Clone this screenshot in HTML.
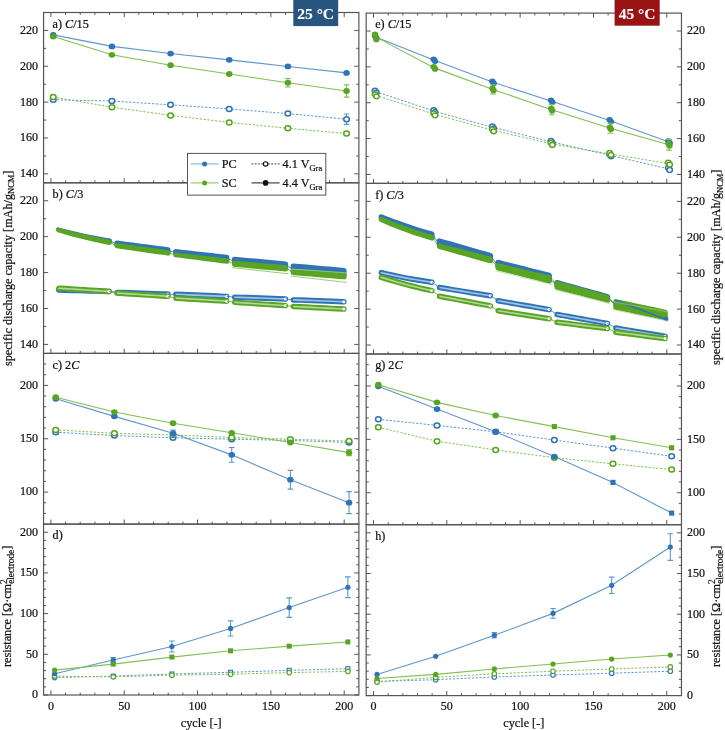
<!DOCTYPE html>
<html><head><meta charset="utf-8"><style>
html,body{margin:0;padding:0;background:#fff;}
svg{display:block;will-change:transform;}
text{font-family:"Liberation Serif", serif;fill:#111;stroke:#111;stroke-width:0.22px;}
.t{font-size:12px;}
.pl{font-size:12.2px;}
.lt{font-size:12.2px;}
.at{font-size:12.2px;}
.tb{font-size:15.5px;font-weight:bold;fill:#fff;stroke:#fff;stroke-width:0.1px;}
</style></head><body>
<svg width="725" height="730" viewBox="0 0 725 730">
<rect width="725" height="730" fill="#fff"/>
<rect x="43.57" y="12.50" width="315.30" height="170.30" fill="none" stroke="#555555" stroke-width="1.2"/>
<path d="M43.57 173.84h4.6M358.86 173.84h-4.6M43.57 137.98h4.6M358.86 137.98h-4.6M43.57 102.13h4.6M358.86 102.13h-4.6M43.57 66.28h4.6M358.86 66.28h-4.6M43.57 30.43h4.6M358.86 30.43h-4.6M43.57 155.91h2.6M358.86 155.91h-2.6M43.57 120.06h2.6M358.86 120.06h-2.6M43.57 84.21h2.6M358.86 84.21h-2.6M43.57 48.35h2.6M358.86 48.35h-2.6M50.90 182.80v-4.6M50.90 12.50v4.6M65.56 182.80v-2.4M65.56 12.50v2.4M80.23 182.80v-2.4M80.23 12.50v2.4M94.89 182.80v-2.4M94.89 12.50v2.4M109.56 182.80v-2.4M109.56 12.50v2.4M124.22 182.80v-4.6M124.22 12.50v4.6M138.89 182.80v-2.4M138.89 12.50v2.4M153.56 182.80v-2.4M153.56 12.50v2.4M168.22 182.80v-2.4M168.22 12.50v2.4M182.88 182.80v-2.4M182.88 12.50v2.4M197.55 182.80v-4.6M197.55 12.50v4.6M212.22 182.80v-2.4M212.22 12.50v2.4M226.88 182.80v-2.4M226.88 12.50v2.4M241.54 182.80v-2.4M241.54 12.50v2.4M256.21 182.80v-2.4M256.21 12.50v2.4M270.88 182.80v-4.6M270.88 12.50v4.6M285.54 182.80v-2.4M285.54 12.50v2.4M300.20 182.80v-2.4M300.20 12.50v2.4M314.87 182.80v-2.4M314.87 12.50v2.4M329.53 182.80v-2.4M329.53 12.50v2.4M344.20 182.80v-4.6M344.20 12.50v4.6" stroke="#555555" stroke-width="1" fill="none"/>
<text x="38.07" y="177.24" text-anchor="end" class="t">140</text>
<text x="38.07" y="141.38" text-anchor="end" class="t">160</text>
<text x="38.07" y="105.53" text-anchor="end" class="t">180</text>
<text x="38.07" y="69.68" text-anchor="end" class="t">200</text>
<text x="38.07" y="33.83" text-anchor="end" class="t">220</text>
<rect x="43.57" y="182.80" width="315.30" height="170.60" fill="none" stroke="#555555" stroke-width="1.2"/>
<path d="M43.57 344.42h4.6M358.86 344.42h-4.6M43.57 308.51h4.6M358.86 308.51h-4.6M43.57 272.59h4.6M358.86 272.59h-4.6M43.57 236.67h4.6M358.86 236.67h-4.6M43.57 200.76h4.6M358.86 200.76h-4.6M43.57 326.46h2.6M358.86 326.46h-2.6M43.57 290.55h2.6M358.86 290.55h-2.6M43.57 254.63h2.6M358.86 254.63h-2.6M43.57 218.72h2.6M358.86 218.72h-2.6M50.90 353.40v-4.6M65.56 353.40v-2.4M80.23 353.40v-2.4M94.89 353.40v-2.4M109.56 353.40v-2.4M124.22 353.40v-4.6M138.89 353.40v-2.4M153.56 353.40v-2.4M168.22 353.40v-2.4M182.88 353.40v-2.4M197.55 353.40v-4.6M212.22 353.40v-2.4M226.88 353.40v-2.4M241.54 353.40v-2.4M256.21 353.40v-2.4M270.88 353.40v-4.6M285.54 353.40v-2.4M300.20 353.40v-2.4M314.87 353.40v-2.4M329.53 353.40v-2.4M344.20 353.40v-4.6" stroke="#555555" stroke-width="1" fill="none"/>
<text x="38.07" y="347.82" text-anchor="end" class="t">140</text>
<text x="38.07" y="311.91" text-anchor="end" class="t">160</text>
<text x="38.07" y="275.99" text-anchor="end" class="t">180</text>
<text x="38.07" y="240.07" text-anchor="end" class="t">200</text>
<text x="38.07" y="204.16" text-anchor="end" class="t">220</text>
<rect x="43.57" y="353.40" width="315.30" height="170.70" fill="none" stroke="#555555" stroke-width="1.2"/>
<path d="M43.57 492.09h4.6M358.86 492.09h-4.6M43.57 438.75h4.6M358.86 438.75h-4.6M43.57 385.41h4.6M358.86 385.41h-4.6M43.57 513.43h2.6M358.86 513.43h-2.6M43.57 502.76h2.6M358.86 502.76h-2.6M43.57 481.43h2.6M358.86 481.43h-2.6M43.57 470.76h2.6M358.86 470.76h-2.6M43.57 460.09h2.6M358.86 460.09h-2.6M43.57 449.42h2.6M358.86 449.42h-2.6M43.57 428.08h2.6M358.86 428.08h-2.6M43.57 417.41h2.6M358.86 417.41h-2.6M43.57 406.74h2.6M358.86 406.74h-2.6M43.57 396.07h2.6M358.86 396.07h-2.6M43.57 374.74h2.6M358.86 374.74h-2.6M43.57 364.07h2.6M358.86 364.07h-2.6M50.90 524.10v-4.6M65.56 524.10v-2.4M80.23 524.10v-2.4M94.89 524.10v-2.4M109.56 524.10v-2.4M124.22 524.10v-4.6M138.89 524.10v-2.4M153.56 524.10v-2.4M168.22 524.10v-2.4M182.88 524.10v-2.4M197.55 524.10v-4.6M212.22 524.10v-2.4M226.88 524.10v-2.4M241.54 524.10v-2.4M256.21 524.10v-2.4M270.88 524.10v-4.6M285.54 524.10v-2.4M300.20 524.10v-2.4M314.87 524.10v-2.4M329.53 524.10v-2.4M344.20 524.10v-4.6" stroke="#555555" stroke-width="1" fill="none"/>
<text x="38.07" y="495.49" text-anchor="end" class="t">100</text>
<text x="38.07" y="442.15" text-anchor="end" class="t">150</text>
<text x="38.07" y="388.81" text-anchor="end" class="t">200</text>
<rect x="43.57" y="524.10" width="315.30" height="170.90" fill="none" stroke="#555555" stroke-width="1.2"/>
<path d="M43.57 695.00h4.6M358.86 695.00h-4.6M43.57 654.31h4.6M358.86 654.31h-4.6M43.57 613.62h4.6M358.86 613.62h-4.6M43.57 572.93h4.6M358.86 572.93h-4.6M43.57 532.24h4.6M358.86 532.24h-4.6M43.57 686.86h2.6M358.86 686.86h-2.6M43.57 678.72h2.6M358.86 678.72h-2.6M43.57 670.59h2.6M358.86 670.59h-2.6M43.57 662.45h2.6M358.86 662.45h-2.6M43.57 646.17h2.6M358.86 646.17h-2.6M43.57 638.03h2.6M358.86 638.03h-2.6M43.57 629.90h2.6M358.86 629.90h-2.6M43.57 621.76h2.6M358.86 621.76h-2.6M43.57 605.48h2.6M358.86 605.48h-2.6M43.57 597.34h2.6M358.86 597.34h-2.6M43.57 589.20h2.6M358.86 589.20h-2.6M43.57 581.07h2.6M358.86 581.07h-2.6M43.57 564.79h2.6M358.86 564.79h-2.6M43.57 556.65h2.6M358.86 556.65h-2.6M43.57 548.51h2.6M358.86 548.51h-2.6M43.57 540.38h2.6M358.86 540.38h-2.6M50.90 695.00v-4.6M65.56 695.00v-2.4M80.23 695.00v-2.4M94.89 695.00v-2.4M109.56 695.00v-2.4M124.22 695.00v-4.6M138.89 695.00v-2.4M153.56 695.00v-2.4M168.22 695.00v-2.4M182.88 695.00v-2.4M197.55 695.00v-4.6M212.22 695.00v-2.4M226.88 695.00v-2.4M241.54 695.00v-2.4M256.21 695.00v-2.4M270.88 695.00v-4.6M285.54 695.00v-2.4M300.20 695.00v-2.4M314.87 695.00v-2.4M329.53 695.00v-2.4M344.20 695.00v-4.6" stroke="#555555" stroke-width="1" fill="none"/>
<text x="38.07" y="698.40" text-anchor="end" class="t">0</text>
<text x="38.07" y="657.71" text-anchor="end" class="t">50</text>
<text x="38.07" y="617.02" text-anchor="end" class="t">100</text>
<text x="38.07" y="576.33" text-anchor="end" class="t">150</text>
<text x="38.07" y="535.64" text-anchor="end" class="t">200</text>
<text x="50.90" y="709.60" text-anchor="middle" class="t">0</text>
<text x="124.22" y="709.60" text-anchor="middle" class="t">50</text>
<text x="197.55" y="709.60" text-anchor="middle" class="t">100</text>
<text x="270.88" y="709.60" text-anchor="middle" class="t">150</text>
<text x="344.20" y="709.60" text-anchor="middle" class="t">200</text>
<g transform="translate(0 0.6)">
<rect x="366.17" y="12.50" width="315.30" height="170.30" fill="none" stroke="#555555" stroke-width="1.2"/>
<path d="M366.17 173.84h4.6M681.46 173.84h-4.6M366.17 137.98h4.6M681.46 137.98h-4.6M366.17 102.13h4.6M681.46 102.13h-4.6M366.17 66.28h4.6M681.46 66.28h-4.6M366.17 30.43h4.6M681.46 30.43h-4.6M366.17 155.91h2.6M681.46 155.91h-2.6M366.17 120.06h2.6M681.46 120.06h-2.6M366.17 84.21h2.6M681.46 84.21h-2.6M366.17 48.35h2.6M681.46 48.35h-2.6M373.50 182.80v-4.6M373.50 12.50v4.6M388.17 182.80v-2.4M388.17 12.50v2.4M402.83 182.80v-2.4M402.83 12.50v2.4M417.50 182.80v-2.4M417.50 12.50v2.4M432.16 182.80v-2.4M432.16 12.50v2.4M446.82 182.80v-4.6M446.82 12.50v4.6M461.49 182.80v-2.4M461.49 12.50v2.4M476.15 182.80v-2.4M476.15 12.50v2.4M490.82 182.80v-2.4M490.82 12.50v2.4M505.49 182.80v-2.4M505.49 12.50v2.4M520.15 182.80v-4.6M520.15 12.50v4.6M534.82 182.80v-2.4M534.82 12.50v2.4M549.48 182.80v-2.4M549.48 12.50v2.4M564.14 182.80v-2.4M564.14 12.50v2.4M578.81 182.80v-2.4M578.81 12.50v2.4M593.48 182.80v-4.6M593.48 12.50v4.6M608.14 182.80v-2.4M608.14 12.50v2.4M622.80 182.80v-2.4M622.80 12.50v2.4M637.47 182.80v-2.4M637.47 12.50v2.4M652.13 182.80v-2.4M652.13 12.50v2.4M666.80 182.80v-4.6M666.80 12.50v4.6" stroke="#555555" stroke-width="1" fill="none"/>
<text x="686.96" y="177.24" text-anchor="start" class="t">140</text>
<text x="686.96" y="141.38" text-anchor="start" class="t">160</text>
<text x="686.96" y="105.53" text-anchor="start" class="t">180</text>
<text x="686.96" y="69.68" text-anchor="start" class="t">200</text>
<text x="686.96" y="33.83" text-anchor="start" class="t">220</text>
</g>
<g transform="translate(0 0.6)">
<rect x="366.17" y="182.80" width="315.30" height="170.60" fill="none" stroke="#555555" stroke-width="1.2"/>
<path d="M366.17 344.42h4.6M681.46 344.42h-4.6M366.17 308.51h4.6M681.46 308.51h-4.6M366.17 272.59h4.6M681.46 272.59h-4.6M366.17 236.67h4.6M681.46 236.67h-4.6M366.17 200.76h4.6M681.46 200.76h-4.6M366.17 326.46h2.6M681.46 326.46h-2.6M366.17 290.55h2.6M681.46 290.55h-2.6M366.17 254.63h2.6M681.46 254.63h-2.6M366.17 218.72h2.6M681.46 218.72h-2.6M373.50 353.40v-4.6M388.17 353.40v-2.4M402.83 353.40v-2.4M417.50 353.40v-2.4M432.16 353.40v-2.4M446.82 353.40v-4.6M461.49 353.40v-2.4M476.15 353.40v-2.4M490.82 353.40v-2.4M505.49 353.40v-2.4M520.15 353.40v-4.6M534.82 353.40v-2.4M549.48 353.40v-2.4M564.14 353.40v-2.4M578.81 353.40v-2.4M593.48 353.40v-4.6M608.14 353.40v-2.4M622.80 353.40v-2.4M637.47 353.40v-2.4M652.13 353.40v-2.4M666.80 353.40v-4.6" stroke="#555555" stroke-width="1" fill="none"/>
<text x="686.96" y="347.82" text-anchor="start" class="t">140</text>
<text x="686.96" y="311.91" text-anchor="start" class="t">160</text>
<text x="686.96" y="275.99" text-anchor="start" class="t">180</text>
<text x="686.96" y="240.07" text-anchor="start" class="t">200</text>
<text x="686.96" y="204.16" text-anchor="start" class="t">220</text>
</g>
<g transform="translate(0 0.6)">
<rect x="366.17" y="353.40" width="315.30" height="170.70" fill="none" stroke="#555555" stroke-width="1.2"/>
<path d="M366.17 492.09h4.6M681.46 492.09h-4.6M366.17 438.75h4.6M681.46 438.75h-4.6M366.17 385.41h4.6M681.46 385.41h-4.6M366.17 513.43h2.6M681.46 513.43h-2.6M366.17 502.76h2.6M681.46 502.76h-2.6M366.17 481.43h2.6M681.46 481.43h-2.6M366.17 470.76h2.6M681.46 470.76h-2.6M366.17 460.09h2.6M681.46 460.09h-2.6M366.17 449.42h2.6M681.46 449.42h-2.6M366.17 428.08h2.6M681.46 428.08h-2.6M366.17 417.41h2.6M681.46 417.41h-2.6M366.17 406.74h2.6M681.46 406.74h-2.6M366.17 396.07h2.6M681.46 396.07h-2.6M366.17 374.74h2.6M681.46 374.74h-2.6M366.17 364.07h2.6M681.46 364.07h-2.6M373.50 524.10v-4.6M388.17 524.10v-2.4M402.83 524.10v-2.4M417.50 524.10v-2.4M432.16 524.10v-2.4M446.82 524.10v-4.6M461.49 524.10v-2.4M476.15 524.10v-2.4M490.82 524.10v-2.4M505.49 524.10v-2.4M520.15 524.10v-4.6M534.82 524.10v-2.4M549.48 524.10v-2.4M564.14 524.10v-2.4M578.81 524.10v-2.4M593.48 524.10v-4.6M608.14 524.10v-2.4M622.80 524.10v-2.4M637.47 524.10v-2.4M652.13 524.10v-2.4M666.80 524.10v-4.6" stroke="#555555" stroke-width="1" fill="none"/>
<text x="686.96" y="495.49" text-anchor="start" class="t">100</text>
<text x="686.96" y="442.15" text-anchor="start" class="t">150</text>
<text x="686.96" y="388.81" text-anchor="start" class="t">200</text>
</g>
<g transform="translate(0 0.6)">
<rect x="366.17" y="524.10" width="315.30" height="170.90" fill="none" stroke="#555555" stroke-width="1.2"/>
<path d="M366.17 695.00h4.6M681.46 695.00h-4.6M366.17 654.31h4.6M681.46 654.31h-4.6M366.17 613.62h4.6M681.46 613.62h-4.6M366.17 572.93h4.6M681.46 572.93h-4.6M366.17 532.24h4.6M681.46 532.24h-4.6M366.17 686.86h2.6M681.46 686.86h-2.6M366.17 678.72h2.6M681.46 678.72h-2.6M366.17 670.59h2.6M681.46 670.59h-2.6M366.17 662.45h2.6M681.46 662.45h-2.6M366.17 646.17h2.6M681.46 646.17h-2.6M366.17 638.03h2.6M681.46 638.03h-2.6M366.17 629.90h2.6M681.46 629.90h-2.6M366.17 621.76h2.6M681.46 621.76h-2.6M366.17 605.48h2.6M681.46 605.48h-2.6M366.17 597.34h2.6M681.46 597.34h-2.6M366.17 589.20h2.6M681.46 589.20h-2.6M366.17 581.07h2.6M681.46 581.07h-2.6M366.17 564.79h2.6M681.46 564.79h-2.6M366.17 556.65h2.6M681.46 556.65h-2.6M366.17 548.51h2.6M681.46 548.51h-2.6M366.17 540.38h2.6M681.46 540.38h-2.6M373.50 695.00v-4.6M388.17 695.00v-2.4M402.83 695.00v-2.4M417.50 695.00v-2.4M432.16 695.00v-2.4M446.82 695.00v-4.6M461.49 695.00v-2.4M476.15 695.00v-2.4M490.82 695.00v-2.4M505.49 695.00v-2.4M520.15 695.00v-4.6M534.82 695.00v-2.4M549.48 695.00v-2.4M564.14 695.00v-2.4M578.81 695.00v-2.4M593.48 695.00v-4.6M608.14 695.00v-2.4M622.80 695.00v-2.4M637.47 695.00v-2.4M652.13 695.00v-2.4M666.80 695.00v-4.6" stroke="#555555" stroke-width="1" fill="none"/>
<text x="686.96" y="698.40" text-anchor="start" class="t">0</text>
<text x="686.96" y="657.71" text-anchor="start" class="t">50</text>
<text x="686.96" y="617.02" text-anchor="start" class="t">100</text>
<text x="686.96" y="576.33" text-anchor="start" class="t">150</text>
<text x="686.96" y="535.64" text-anchor="start" class="t">200</text>
<text x="373.50" y="709.60" text-anchor="middle" class="t">0</text>
<text x="446.82" y="709.60" text-anchor="middle" class="t">50</text>
<text x="520.15" y="709.60" text-anchor="middle" class="t">100</text>
<text x="593.48" y="709.60" text-anchor="middle" class="t">150</text>
<text x="666.80" y="709.60" text-anchor="middle" class="t">200</text>
</g>
<path d="M53.25 99.80L111.91 101.06L170.57 104.82L229.23 108.94L287.89 113.60L346.55 119.16" fill="none" stroke="#5e97cf" stroke-width="1.0" stroke-dasharray="2.2 1.6"/>
<path d="M287.89 111.81V115.40M285.09 111.81h5.6M285.09 115.40h5.6" stroke="#5e97cf" stroke-width="1.1" fill="none"/>
<path d="M346.55 113.96V124.36M343.75 113.96h5.6M343.75 124.36h5.6" stroke="#5e97cf" stroke-width="1.1" fill="none"/>
<ellipse cx="53.25" cy="99.80" rx="2.80" ry="2.50" fill="#fff" stroke="#2f74b5" stroke-width="1.5"/>
<ellipse cx="111.91" cy="101.06" rx="2.80" ry="2.50" fill="#fff" stroke="#2f74b5" stroke-width="1.5"/>
<ellipse cx="170.57" cy="104.82" rx="2.80" ry="2.50" fill="#fff" stroke="#2f74b5" stroke-width="1.5"/>
<ellipse cx="229.23" cy="108.94" rx="2.80" ry="2.50" fill="#fff" stroke="#2f74b5" stroke-width="1.5"/>
<ellipse cx="287.89" cy="113.60" rx="2.80" ry="2.50" fill="#fff" stroke="#2f74b5" stroke-width="1.5"/>
<ellipse cx="346.55" cy="119.16" rx="2.80" ry="2.50" fill="#fff" stroke="#2f74b5" stroke-width="1.5"/>
<path d="M53.25 97.11L111.91 107.15L170.57 115.40L229.23 122.39L287.89 128.30L346.55 133.50" fill="none" stroke="#82bf55" stroke-width="1.0" stroke-dasharray="2.2 1.6"/>
<ellipse cx="53.25" cy="97.11" rx="2.80" ry="2.50" fill="#fff" stroke="#5aa423" stroke-width="1.5"/>
<ellipse cx="111.91" cy="107.15" rx="2.80" ry="2.50" fill="#fff" stroke="#5aa423" stroke-width="1.5"/>
<ellipse cx="170.57" cy="115.40" rx="2.80" ry="2.50" fill="#fff" stroke="#5aa423" stroke-width="1.5"/>
<ellipse cx="229.23" cy="122.39" rx="2.80" ry="2.50" fill="#fff" stroke="#5aa423" stroke-width="1.5"/>
<ellipse cx="287.89" cy="128.30" rx="2.80" ry="2.50" fill="#fff" stroke="#5aa423" stroke-width="1.5"/>
<ellipse cx="346.55" cy="133.50" rx="2.80" ry="2.50" fill="#fff" stroke="#5aa423" stroke-width="1.5"/>
<path d="M53.25 34.91L111.91 46.38L170.57 53.55L229.23 59.83L287.89 66.46L346.55 72.91" fill="none" stroke="#5e97cf" stroke-width="1.1"/>
<ellipse cx="53.25" cy="34.91" rx="3.30" ry="2.90" fill="#2f74b5"/>
<ellipse cx="111.91" cy="46.38" rx="3.30" ry="2.90" fill="#2f74b5"/>
<ellipse cx="170.57" cy="53.55" rx="3.30" ry="2.90" fill="#2f74b5"/>
<ellipse cx="229.23" cy="59.83" rx="3.30" ry="2.90" fill="#2f74b5"/>
<ellipse cx="287.89" cy="66.46" rx="3.30" ry="2.90" fill="#2f74b5"/>
<ellipse cx="346.55" cy="72.91" rx="3.30" ry="2.90" fill="#2f74b5"/>
<path d="M53.25 36.52L111.91 54.81L170.57 65.20L229.23 73.99L287.89 82.77L346.55 91.02" fill="none" stroke="#82bf55" stroke-width="1.1"/>
<path d="M287.89 78.47V87.07M285.09 78.47h5.6M285.09 87.07h5.6" stroke="#82bf55" stroke-width="1.1" fill="none"/>
<path d="M346.55 84.92V97.11M343.75 84.92h5.6M343.75 97.11h5.6" stroke="#82bf55" stroke-width="1.1" fill="none"/>
<ellipse cx="53.25" cy="36.52" rx="3.30" ry="2.90" fill="#5aa423"/>
<ellipse cx="111.91" cy="54.81" rx="3.30" ry="2.90" fill="#5aa423"/>
<ellipse cx="170.57" cy="65.20" rx="3.30" ry="2.90" fill="#5aa423"/>
<ellipse cx="229.23" cy="73.99" rx="3.30" ry="2.90" fill="#5aa423"/>
<ellipse cx="287.89" cy="82.77" rx="3.30" ry="2.90" fill="#5aa423"/>
<ellipse cx="346.55" cy="91.02" rx="3.30" ry="2.90" fill="#5aa423"/>
<path d="M375.70 91.56L434.36 111.27L493.02 127.41L551.68 141.93L610.34 155.37L669.00 169.00" fill="none" stroke="#5e97cf" stroke-width="1.0" stroke-dasharray="2.2 1.6"/>
<ellipse cx="375.00" cy="90.56" rx="2.70" ry="2.40" fill="#fff" stroke="#2f74b5" stroke-width="1.5"/>
<ellipse cx="376.40" cy="92.56" rx="2.70" ry="2.40" fill="#fff" stroke="#2f74b5" stroke-width="1.5"/>
<ellipse cx="433.66" cy="110.27" rx="2.70" ry="2.40" fill="#fff" stroke="#2f74b5" stroke-width="1.5"/>
<ellipse cx="435.06" cy="112.27" rx="2.70" ry="2.40" fill="#fff" stroke="#2f74b5" stroke-width="1.5"/>
<ellipse cx="492.32" cy="126.41" rx="2.70" ry="2.40" fill="#fff" stroke="#2f74b5" stroke-width="1.5"/>
<ellipse cx="493.72" cy="128.41" rx="2.70" ry="2.40" fill="#fff" stroke="#2f74b5" stroke-width="1.5"/>
<ellipse cx="550.98" cy="140.93" rx="2.70" ry="2.40" fill="#fff" stroke="#2f74b5" stroke-width="1.5"/>
<ellipse cx="552.38" cy="142.93" rx="2.70" ry="2.40" fill="#fff" stroke="#2f74b5" stroke-width="1.5"/>
<ellipse cx="609.64" cy="154.37" rx="2.70" ry="2.40" fill="#fff" stroke="#2f74b5" stroke-width="1.5"/>
<ellipse cx="611.04" cy="156.37" rx="2.70" ry="2.40" fill="#fff" stroke="#2f74b5" stroke-width="1.5"/>
<ellipse cx="668.30" cy="168.00" rx="2.70" ry="2.40" fill="#fff" stroke="#2f74b5" stroke-width="1.5"/>
<ellipse cx="669.70" cy="170.00" rx="2.70" ry="2.40" fill="#fff" stroke="#2f74b5" stroke-width="1.5"/>
<path d="M375.70 95.32L434.36 114.32L493.02 130.28L551.68 143.90L610.34 153.94L669.00 163.62" fill="none" stroke="#82bf55" stroke-width="1.0" stroke-dasharray="2.2 1.6"/>
<ellipse cx="375.00" cy="94.32" rx="2.70" ry="2.40" fill="#fff" stroke="#5aa423" stroke-width="1.5"/>
<ellipse cx="376.40" cy="96.32" rx="2.70" ry="2.40" fill="#fff" stroke="#5aa423" stroke-width="1.5"/>
<ellipse cx="433.66" cy="113.32" rx="2.70" ry="2.40" fill="#fff" stroke="#5aa423" stroke-width="1.5"/>
<ellipse cx="435.06" cy="115.32" rx="2.70" ry="2.40" fill="#fff" stroke="#5aa423" stroke-width="1.5"/>
<ellipse cx="492.32" cy="129.28" rx="2.70" ry="2.40" fill="#fff" stroke="#5aa423" stroke-width="1.5"/>
<ellipse cx="493.72" cy="131.28" rx="2.70" ry="2.40" fill="#fff" stroke="#5aa423" stroke-width="1.5"/>
<ellipse cx="550.98" cy="142.90" rx="2.70" ry="2.40" fill="#fff" stroke="#5aa423" stroke-width="1.5"/>
<ellipse cx="552.38" cy="144.90" rx="2.70" ry="2.40" fill="#fff" stroke="#5aa423" stroke-width="1.5"/>
<ellipse cx="609.64" cy="152.94" rx="2.70" ry="2.40" fill="#fff" stroke="#5aa423" stroke-width="1.5"/>
<ellipse cx="611.04" cy="154.94" rx="2.70" ry="2.40" fill="#fff" stroke="#5aa423" stroke-width="1.5"/>
<ellipse cx="668.30" cy="162.62" rx="2.70" ry="2.40" fill="#fff" stroke="#5aa423" stroke-width="1.5"/>
<ellipse cx="669.70" cy="164.62" rx="2.70" ry="2.40" fill="#fff" stroke="#5aa423" stroke-width="1.5"/>
<path d="M375.70 37.06L434.36 60.36L493.02 82.23L551.68 101.24L610.34 120.77L669.00 141.93" fill="none" stroke="#5e97cf" stroke-width="1.1"/>
<ellipse cx="375.00" cy="36.06" rx="3.20" ry="2.80" fill="#2f74b5"/>
<ellipse cx="376.40" cy="38.06" rx="3.20" ry="2.80" fill="#2f74b5"/>
<ellipse cx="433.66" cy="59.36" rx="3.20" ry="2.80" fill="#2f74b5"/>
<ellipse cx="435.06" cy="61.36" rx="3.20" ry="2.80" fill="#2f74b5"/>
<ellipse cx="492.32" cy="81.23" rx="3.20" ry="2.80" fill="#2f74b5"/>
<ellipse cx="493.72" cy="83.23" rx="3.20" ry="2.80" fill="#2f74b5"/>
<ellipse cx="550.98" cy="100.24" rx="3.20" ry="2.80" fill="#2f74b5"/>
<ellipse cx="552.38" cy="102.24" rx="3.20" ry="2.80" fill="#2f74b5"/>
<ellipse cx="609.64" cy="119.77" rx="3.20" ry="2.80" fill="#2f74b5"/>
<ellipse cx="611.04" cy="121.77" rx="3.20" ry="2.80" fill="#2f74b5"/>
<ellipse cx="668.30" cy="140.93" rx="3.20" ry="2.80" fill="#2f74b5"/>
<ellipse cx="669.70" cy="142.93" rx="3.20" ry="2.80" fill="#2f74b5"/>
<path d="M375.70 36.88L434.36 67.89L493.02 89.40L551.68 109.66L610.34 128.30L669.00 144.80" fill="none" stroke="#82bf55" stroke-width="1.1"/>
<path d="M493.02 84.74V94.06M490.22 84.74h5.6M490.22 94.06h5.6" stroke="#82bf55" stroke-width="1.1" fill="none"/>
<path d="M551.68 104.64V114.68M548.88 104.64h5.6M548.88 114.68h5.6" stroke="#82bf55" stroke-width="1.1" fill="none"/>
<path d="M610.34 123.28V133.32M607.54 123.28h5.6M607.54 133.32h5.6" stroke="#82bf55" stroke-width="1.1" fill="none"/>
<path d="M669.00 139.42V150.17M666.20 139.42h5.6M666.20 150.17h5.6" stroke="#82bf55" stroke-width="1.1" fill="none"/>
<ellipse cx="375.00" cy="34.38" rx="3.20" ry="2.80" fill="#5aa423"/>
<ellipse cx="376.40" cy="39.38" rx="3.20" ry="2.80" fill="#5aa423"/>
<ellipse cx="433.66" cy="66.89" rx="3.20" ry="2.80" fill="#5aa423"/>
<ellipse cx="435.06" cy="68.89" rx="3.20" ry="2.80" fill="#5aa423"/>
<ellipse cx="492.52" cy="88.40" rx="3.20" ry="2.80" fill="#5aa423"/>
<ellipse cx="493.52" cy="90.40" rx="3.20" ry="2.80" fill="#5aa423"/>
<ellipse cx="551.18" cy="108.66" rx="3.20" ry="2.80" fill="#5aa423"/>
<ellipse cx="552.18" cy="110.66" rx="3.20" ry="2.80" fill="#5aa423"/>
<ellipse cx="609.84" cy="127.30" rx="3.20" ry="2.80" fill="#5aa423"/>
<ellipse cx="610.84" cy="129.30" rx="3.20" ry="2.80" fill="#5aa423"/>
<ellipse cx="668.50" cy="143.80" rx="3.20" ry="2.80" fill="#5aa423"/>
<ellipse cx="669.50" cy="145.80" rx="3.20" ry="2.80" fill="#5aa423"/>
<path d="M55.74 432.24L114.40 435.55L173.06 437.79L231.72 439.18L290.38 440.46L349.04 442.48" fill="none" stroke="#5e97cf" stroke-width="1.0" stroke-dasharray="2.2 1.6"/>
<ellipse cx="55.74" cy="432.24" rx="2.80" ry="2.50" fill="#fff" stroke="#2f74b5" stroke-width="1.5"/>
<ellipse cx="114.40" cy="435.55" rx="2.80" ry="2.50" fill="#fff" stroke="#2f74b5" stroke-width="1.5"/>
<ellipse cx="173.06" cy="437.79" rx="2.80" ry="2.50" fill="#fff" stroke="#2f74b5" stroke-width="1.5"/>
<ellipse cx="231.72" cy="439.18" rx="2.80" ry="2.50" fill="#fff" stroke="#2f74b5" stroke-width="1.5"/>
<ellipse cx="290.38" cy="440.46" rx="2.80" ry="2.50" fill="#fff" stroke="#2f74b5" stroke-width="1.5"/>
<ellipse cx="349.04" cy="442.48" rx="2.80" ry="2.50" fill="#fff" stroke="#2f74b5" stroke-width="1.5"/>
<path d="M55.74 429.89L114.40 433.31L173.06 435.02L231.72 437.47L290.38 439.18L349.04 441.10" fill="none" stroke="#82bf55" stroke-width="1.0" stroke-dasharray="2.2 1.6"/>
<ellipse cx="55.74" cy="429.89" rx="2.80" ry="2.50" fill="#fff" stroke="#5aa423" stroke-width="1.5"/>
<ellipse cx="114.40" cy="433.31" rx="2.80" ry="2.50" fill="#fff" stroke="#5aa423" stroke-width="1.5"/>
<ellipse cx="173.06" cy="435.02" rx="2.80" ry="2.50" fill="#fff" stroke="#5aa423" stroke-width="1.5"/>
<ellipse cx="231.72" cy="437.47" rx="2.80" ry="2.50" fill="#fff" stroke="#5aa423" stroke-width="1.5"/>
<ellipse cx="290.38" cy="439.18" rx="2.80" ry="2.50" fill="#fff" stroke="#5aa423" stroke-width="1.5"/>
<ellipse cx="349.04" cy="441.10" rx="2.80" ry="2.50" fill="#fff" stroke="#5aa423" stroke-width="1.5"/>
<path d="M55.74 398.74L114.40 416.35L173.06 433.31L231.72 454.86L290.38 479.72L349.04 502.66" fill="none" stroke="#5e97cf" stroke-width="1.1"/>
<path d="M114.40 415.28V417.41M111.60 415.28h5.6M111.60 417.41h5.6" stroke="#5e97cf" stroke-width="1.1" fill="none"/>
<path d="M173.06 430.11V436.51M170.26 430.11h5.6M170.26 436.51h5.6" stroke="#5e97cf" stroke-width="1.1" fill="none"/>
<path d="M231.72 447.50V462.22M228.92 447.50h5.6M228.92 462.22h5.6" stroke="#5e97cf" stroke-width="1.1" fill="none"/>
<path d="M290.38 470.33V489.11M287.58 470.33h5.6M287.58 489.11h5.6" stroke="#5e97cf" stroke-width="1.1" fill="none"/>
<path d="M349.04 491.67V513.64M346.24 491.67h5.6M346.24 513.64h5.6" stroke="#5e97cf" stroke-width="1.1" fill="none"/>
<ellipse cx="55.74" cy="398.74" rx="3.30" ry="2.90" fill="#2f74b5"/>
<ellipse cx="114.40" cy="416.35" rx="3.30" ry="2.90" fill="#2f74b5"/>
<ellipse cx="173.06" cy="433.31" rx="3.30" ry="2.90" fill="#2f74b5"/>
<ellipse cx="231.72" cy="454.86" rx="3.30" ry="2.90" fill="#2f74b5"/>
<ellipse cx="290.38" cy="479.72" rx="3.30" ry="2.90" fill="#2f74b5"/>
<ellipse cx="349.04" cy="502.66" rx="3.30" ry="2.90" fill="#2f74b5"/>
<path d="M55.74 397.25L114.40 412.08L173.06 423.17L231.72 432.78L290.38 442.48L349.04 452.62" fill="none" stroke="#82bf55" stroke-width="1.1"/>
<path d="M349.04 449.63V455.61M346.24 449.63h5.6M346.24 455.61h5.6" stroke="#82bf55" stroke-width="1.1" fill="none"/>
<ellipse cx="55.74" cy="397.25" rx="3.30" ry="2.90" fill="#5aa423"/>
<ellipse cx="114.40" cy="412.08" rx="3.30" ry="2.90" fill="#5aa423"/>
<ellipse cx="173.06" cy="423.17" rx="3.30" ry="2.90" fill="#5aa423"/>
<ellipse cx="231.72" cy="432.78" rx="3.30" ry="2.90" fill="#5aa423"/>
<ellipse cx="290.38" cy="442.48" rx="3.30" ry="2.90" fill="#5aa423"/>
<ellipse cx="349.04" cy="452.62" rx="3.30" ry="2.90" fill="#5aa423"/>
<path d="M378.34 419.33L437.00 425.41L495.66 431.82L554.32 440.03L612.98 448.14L671.64 456.25" fill="none" stroke="#5e97cf" stroke-width="1.0" stroke-dasharray="2.2 1.6"/>
<ellipse cx="378.34" cy="419.33" rx="2.80" ry="2.50" fill="#fff" stroke="#2f74b5" stroke-width="1.5"/>
<ellipse cx="437.00" cy="425.41" rx="2.80" ry="2.50" fill="#fff" stroke="#2f74b5" stroke-width="1.5"/>
<ellipse cx="495.66" cy="431.82" rx="2.80" ry="2.50" fill="#fff" stroke="#2f74b5" stroke-width="1.5"/>
<ellipse cx="554.32" cy="440.03" rx="2.80" ry="2.50" fill="#fff" stroke="#2f74b5" stroke-width="1.5"/>
<ellipse cx="612.98" cy="448.14" rx="2.80" ry="2.50" fill="#fff" stroke="#2f74b5" stroke-width="1.5"/>
<ellipse cx="671.64" cy="456.25" rx="2.80" ry="2.50" fill="#fff" stroke="#2f74b5" stroke-width="1.5"/>
<path d="M378.34 427.23L437.00 441.20L495.66 449.95L554.32 457.63L612.98 463.82L671.64 469.58" fill="none" stroke="#82bf55" stroke-width="1.0" stroke-dasharray="2.2 1.6"/>
<ellipse cx="378.34" cy="427.23" rx="2.80" ry="2.50" fill="#fff" stroke="#5aa423" stroke-width="1.5"/>
<ellipse cx="437.00" cy="441.20" rx="2.80" ry="2.50" fill="#fff" stroke="#5aa423" stroke-width="1.5"/>
<ellipse cx="495.66" cy="449.95" rx="2.80" ry="2.50" fill="#fff" stroke="#5aa423" stroke-width="1.5"/>
<ellipse cx="554.32" cy="457.63" rx="2.80" ry="2.50" fill="#fff" stroke="#5aa423" stroke-width="1.5"/>
<ellipse cx="612.98" cy="463.82" rx="2.80" ry="2.50" fill="#fff" stroke="#5aa423" stroke-width="1.5"/>
<ellipse cx="671.64" cy="469.58" rx="2.80" ry="2.50" fill="#fff" stroke="#5aa423" stroke-width="1.5"/>
<path d="M378.34 386.26L437.00 409.09L495.66 431.82L554.32 456.57L612.98 482.39L671.64 513.11" fill="none" stroke="#5e97cf" stroke-width="1.1"/>
<ellipse cx="378.34" cy="386.26" rx="3.30" ry="2.90" fill="#2f74b5"/>
<ellipse cx="437.00" cy="409.09" rx="3.30" ry="2.90" fill="#2f74b5"/>
<ellipse cx="495.66" cy="431.82" rx="3.30" ry="2.90" fill="#2f74b5"/>
<ellipse cx="554.32" cy="456.57" rx="3.30" ry="2.90" fill="#2f74b5"/>
<rect x="610.41" y="479.82" width="5.13" height="5.13" fill="#2f74b5"/>
<rect x="669.07" y="510.55" width="5.13" height="5.13" fill="#2f74b5"/>
<path d="M378.34 384.66L437.00 402.37L495.66 415.49L554.32 426.59L612.98 437.79L671.64 447.82" fill="none" stroke="#82bf55" stroke-width="1.1"/>
<ellipse cx="378.34" cy="384.66" rx="3.30" ry="2.90" fill="#5aa423"/>
<ellipse cx="437.00" cy="402.37" rx="3.30" ry="2.90" fill="#5aa423"/>
<ellipse cx="495.66" cy="415.49" rx="3.30" ry="2.90" fill="#5aa423"/>
<rect x="551.75" y="424.02" width="5.13" height="5.13" fill="#5aa423"/>
<rect x="610.41" y="435.22" width="5.13" height="5.13" fill="#5aa423"/>
<rect x="669.07" y="445.25" width="5.13" height="5.13" fill="#5aa423"/>
<path d="M54.57 677.58L113.23 676.12L171.89 674.00L230.55 672.29L289.21 670.34L347.87 668.71" fill="none" stroke="#5e97cf" stroke-width="1.0" stroke-dasharray="2.2 1.6"/>
<circle cx="54.57" cy="677.58" r="2.25" fill="#fff" stroke="#2f74b5" stroke-width="1.15"/>
<rect x="111.23" y="674.12" width="4" height="4" fill="#fff" stroke="#2f74b5" stroke-width="1.1"/>
<rect x="169.89" y="672.00" width="4" height="4" fill="#fff" stroke="#2f74b5" stroke-width="1.1"/>
<rect x="228.55" y="670.29" width="4" height="4" fill="#fff" stroke="#2f74b5" stroke-width="1.1"/>
<rect x="287.21" y="668.34" width="4" height="4" fill="#fff" stroke="#2f74b5" stroke-width="1.1"/>
<rect x="345.87" y="666.71" width="4" height="4" fill="#fff" stroke="#2f74b5" stroke-width="1.1"/>
<path d="M54.57 676.12L113.23 676.85L171.89 675.14L230.55 674.25L289.21 672.62L347.87 671.40" fill="none" stroke="#82bf55" stroke-width="1.0" stroke-dasharray="2.2 1.6"/>
<circle cx="54.57" cy="676.12" r="2.25" fill="#fff" stroke="#5aa423" stroke-width="1.15"/>
<circle cx="113.23" cy="676.85" r="2.25" fill="#fff" stroke="#5aa423" stroke-width="1.15"/>
<circle cx="171.89" cy="675.14" r="2.25" fill="#fff" stroke="#5aa423" stroke-width="1.15"/>
<circle cx="230.55" cy="674.25" r="2.25" fill="#fff" stroke="#5aa423" stroke-width="1.15"/>
<circle cx="289.21" cy="672.62" r="2.25" fill="#fff" stroke="#5aa423" stroke-width="1.15"/>
<circle cx="347.87" cy="671.40" r="2.25" fill="#fff" stroke="#5aa423" stroke-width="1.15"/>
<path d="M54.57 673.76L113.23 660.01L171.89 646.50L230.55 628.43L289.21 607.60L347.87 587.25" fill="none" stroke="#5e97cf" stroke-width="1.1"/>
<path d="M113.23 657.56V662.45M110.43 657.56h5.6M110.43 662.45h5.6" stroke="#5e97cf" stroke-width="1.1" fill="none"/>
<path d="M171.89 640.96V652.03M169.09 640.96h5.6M169.09 652.03h5.6" stroke="#5e97cf" stroke-width="1.1" fill="none"/>
<path d="M230.55 620.86V636.00M227.75 620.86h5.6M227.75 636.00h5.6" stroke="#5e97cf" stroke-width="1.1" fill="none"/>
<path d="M289.21 597.83V617.36M286.41 597.83h5.6M286.41 617.36h5.6" stroke="#5e97cf" stroke-width="1.1" fill="none"/>
<path d="M347.87 576.92V597.59M345.07 576.92h5.6M345.07 597.59h5.6" stroke="#5e97cf" stroke-width="1.1" fill="none"/>
<circle cx="54.57" cy="673.76" r="2.6" fill="#2f74b5"/>
<circle cx="113.23" cy="660.01" r="2.6" fill="#2f74b5"/>
<circle cx="171.89" cy="646.50" r="2.6" fill="#2f74b5"/>
<circle cx="230.55" cy="628.43" r="2.6" fill="#2f74b5"/>
<circle cx="289.21" cy="607.60" r="2.6" fill="#2f74b5"/>
<circle cx="347.87" cy="587.25" r="2.6" fill="#2f74b5"/>
<path d="M54.57 670.10L113.23 664.16L171.89 657.08L230.55 650.81L289.21 646.17L347.87 641.94" fill="none" stroke="#82bf55" stroke-width="1.1"/>
<circle cx="54.57" cy="670.10" r="2.6" fill="#5aa423"/>
<rect x="110.73" y="661.66" width="5" height="5" fill="#5aa423"/>
<rect x="169.39" y="654.58" width="5" height="5" fill="#5aa423"/>
<rect x="228.05" y="648.31" width="5" height="5" fill="#5aa423"/>
<rect x="286.71" y="643.67" width="5" height="5" fill="#5aa423"/>
<rect x="345.37" y="639.44" width="5" height="5" fill="#5aa423"/>
<path d="M377.02 681.41L435.68 679.70L494.34 677.01L553.00 674.98L611.66 673.19L670.32 671.24" fill="none" stroke="#5e97cf" stroke-width="1.0" stroke-dasharray="2.2 1.6"/>
<circle cx="377.02" cy="681.41" r="2.25" fill="#fff" stroke="#2f74b5" stroke-width="1.15"/>
<circle cx="435.68" cy="679.70" r="2.25" fill="#fff" stroke="#2f74b5" stroke-width="1.15"/>
<circle cx="494.34" cy="677.01" r="2.25" fill="#fff" stroke="#2f74b5" stroke-width="1.15"/>
<circle cx="553.00" cy="674.98" r="2.25" fill="#fff" stroke="#2f74b5" stroke-width="1.15"/>
<circle cx="611.66" cy="673.19" r="2.25" fill="#fff" stroke="#2f74b5" stroke-width="1.15"/>
<circle cx="670.32" cy="671.24" r="2.25" fill="#fff" stroke="#2f74b5" stroke-width="1.15"/>
<path d="M377.02 682.06L435.68 677.34L494.34 673.84L553.00 671.24L611.66 668.96L670.32 666.92" fill="none" stroke="#82bf55" stroke-width="1.0" stroke-dasharray="2.2 1.6"/>
<circle cx="377.02" cy="682.06" r="2.25" fill="#fff" stroke="#5aa423" stroke-width="1.15"/>
<circle cx="435.68" cy="677.34" r="2.25" fill="#fff" stroke="#5aa423" stroke-width="1.15"/>
<circle cx="494.34" cy="673.84" r="2.25" fill="#fff" stroke="#5aa423" stroke-width="1.15"/>
<circle cx="553.00" cy="671.24" r="2.25" fill="#fff" stroke="#5aa423" stroke-width="1.15"/>
<circle cx="611.66" cy="668.96" r="2.25" fill="#fff" stroke="#5aa423" stroke-width="1.15"/>
<circle cx="670.32" cy="666.92" r="2.25" fill="#fff" stroke="#5aa423" stroke-width="1.15"/>
<path d="M377.02 674.41L435.68 656.26L494.34 635.35L553.00 613.37L611.66 585.30L670.32 547.05" fill="none" stroke="#5e97cf" stroke-width="1.1"/>
<path d="M494.34 632.66V638.03M491.54 632.66h5.6M491.54 638.03h5.6" stroke="#5e97cf" stroke-width="1.1" fill="none"/>
<path d="M553.00 608.57V618.18M550.20 608.57h5.6M550.20 618.18h5.6" stroke="#5e97cf" stroke-width="1.1" fill="none"/>
<path d="M611.66 577.08V593.52M608.86 577.08h5.6M608.86 593.52h5.6" stroke="#5e97cf" stroke-width="1.1" fill="none"/>
<path d="M670.32 533.70V560.40M667.52 533.70h5.6M667.52 560.40h5.6" stroke="#5e97cf" stroke-width="1.1" fill="none"/>
<circle cx="377.02" cy="674.41" r="2.6" fill="#2f74b5"/>
<circle cx="435.68" cy="656.26" r="2.6" fill="#2f74b5"/>
<circle cx="494.34" cy="635.35" r="2.6" fill="#2f74b5"/>
<circle cx="553.00" cy="613.37" r="2.6" fill="#2f74b5"/>
<circle cx="611.66" cy="585.30" r="2.6" fill="#2f74b5"/>
<circle cx="670.32" cy="547.05" r="2.6" fill="#2f74b5"/>
<path d="M377.02 678.48L435.68 674.41L494.34 668.96L553.00 663.99L611.66 659.03L670.32 655.04" fill="none" stroke="#82bf55" stroke-width="1.1"/>
<circle cx="377.02" cy="678.48" r="2.6" fill="#5aa423"/>
<circle cx="435.68" cy="674.41" r="2.6" fill="#5aa423"/>
<circle cx="494.34" cy="668.96" r="2.6" fill="#5aa423"/>
<circle cx="553.00" cy="663.99" r="2.6" fill="#5aa423"/>
<circle cx="611.66" cy="659.03" r="2.6" fill="#5aa423"/>
<circle cx="670.32" cy="655.04" r="2.6" fill="#5aa423"/>
<path d="M58.85 290.07L65.12 290.24L71.40 290.41L77.67 290.58L83.95 290.75L90.22 290.92L96.50 291.09L102.78 291.26L109.05 291.43" fill="none" stroke="#2f74b5" stroke-width="5.5" stroke-linecap="round" stroke-linejoin="round"/>
<path d="M58.85 290.07L65.12 290.24L71.40 290.41L77.67 290.58L83.95 290.75L90.22 290.92L96.50 291.09L102.78 291.26L109.05 291.43" fill="none" stroke="#a3c4e6" stroke-width="1.6" stroke-linecap="round"/>
<circle cx="109.05" cy="291.43" r="1.5" fill="#fff"/>
<path d="M117.15 292.39L123.49 292.61L129.82 292.82L136.16 293.04L142.50 293.25L148.84 293.46L155.18 293.68L161.51 293.89L167.85 294.11" fill="none" stroke="#2f74b5" stroke-width="5.5" stroke-linecap="round" stroke-linejoin="round"/>
<path d="M117.15 292.39L123.49 292.61L129.82 292.82L136.16 293.04L142.50 293.25L148.84 293.46L155.18 293.68L161.51 293.89L167.85 294.11" fill="none" stroke="#a3c4e6" stroke-width="1.6" stroke-linecap="round"/>
<circle cx="167.85" cy="294.11" r="1.5" fill="#fff"/>
<path d="M175.95 294.31L182.29 294.57L188.62 294.83L194.96 295.09L201.30 295.35L207.64 295.61L213.97 295.87L220.31 296.13L226.65 296.39" fill="none" stroke="#2f74b5" stroke-width="5.5" stroke-linecap="round" stroke-linejoin="round"/>
<path d="M175.95 294.31L182.29 294.57L188.62 294.83L194.96 295.09L201.30 295.35L207.64 295.61L213.97 295.87L220.31 296.13L226.65 296.39" fill="none" stroke="#a3c4e6" stroke-width="1.6" stroke-linecap="round"/>
<circle cx="226.65" cy="296.39" r="1.5" fill="#fff"/>
<path d="M234.65 297.19L241.00 297.41L247.35 297.62L253.70 297.84L260.05 298.05L266.40 298.26L272.75 298.48L279.10 298.69L285.45 298.91" fill="none" stroke="#2f74b5" stroke-width="5.5" stroke-linecap="round" stroke-linejoin="round"/>
<path d="M234.65 297.19L241.00 297.41L247.35 297.62L253.70 297.84L260.05 298.05L266.40 298.26L272.75 298.48L279.10 298.69L285.45 298.91" fill="none" stroke="#a3c4e6" stroke-width="1.6" stroke-linecap="round"/>
<circle cx="285.45" cy="298.91" r="1.5" fill="#fff"/>
<path d="M293.35 299.90L299.66 300.12L305.98 300.35L312.29 300.57L318.60 300.80L324.91 301.03L331.23 301.25L337.54 301.48L343.85 301.70" fill="none" stroke="#2f74b5" stroke-width="5.5" stroke-linecap="round" stroke-linejoin="round"/>
<path d="M293.35 299.90L299.66 300.12L305.98 300.35L312.29 300.57L318.60 300.80L324.91 301.03L331.23 301.25L337.54 301.48L343.85 301.70" fill="none" stroke="#a3c4e6" stroke-width="1.6" stroke-linecap="round"/>
<circle cx="343.85" cy="301.70" r="1.5" fill="#fff"/>
<path d="M109.05 291.43L117.15 292.39" stroke="#2f74b5" stroke-width="0.8" fill="none"/>
<path d="M167.85 294.11L175.95 294.31" stroke="#2f74b5" stroke-width="0.8" fill="none"/>
<path d="M226.65 296.39L234.65 297.19" stroke="#2f74b5" stroke-width="0.8" fill="none"/>
<path d="M285.45 298.91L293.35 299.90" stroke="#2f74b5" stroke-width="0.8" fill="none"/>
<path d="M58.85 288.18L65.12 288.58L71.40 288.99L77.67 289.39L83.95 289.80L90.22 290.21L96.50 290.61L102.78 291.02L109.05 291.42" fill="none" stroke="#5aa423" stroke-width="5.5" stroke-linecap="round" stroke-linejoin="round"/>
<path d="M58.85 288.18L65.12 288.58L71.40 288.99L77.67 289.39L83.95 289.80L90.22 290.21L96.50 290.61L102.78 291.02L109.05 291.42" fill="none" stroke="#b3d99a" stroke-width="1.6" stroke-linecap="round"/>
<circle cx="109.05" cy="291.42" r="1.5" fill="#fff"/>
<path d="M117.15 293.08L123.49 293.48L129.82 293.89L136.16 294.29L142.50 294.70L148.84 295.11L155.18 295.51L161.51 295.92L167.85 296.32" fill="none" stroke="#5aa423" stroke-width="5.5" stroke-linecap="round" stroke-linejoin="round"/>
<path d="M117.15 293.08L123.49 293.48L129.82 293.89L136.16 294.29L142.50 294.70L148.84 295.11L155.18 295.51L161.51 295.92L167.85 296.32" fill="none" stroke="#b3d99a" stroke-width="1.6" stroke-linecap="round"/>
<circle cx="167.85" cy="296.32" r="1.5" fill="#fff"/>
<path d="M175.95 298.16L182.29 298.53L188.62 298.91L194.96 299.28L201.30 299.65L207.64 300.02L213.97 300.39L220.31 300.77L226.65 301.14" fill="none" stroke="#5aa423" stroke-width="5.5" stroke-linecap="round" stroke-linejoin="round"/>
<path d="M175.95 298.16L182.29 298.53L188.62 298.91L194.96 299.28L201.30 299.65L207.64 300.02L213.97 300.39L220.31 300.77L226.65 301.14" fill="none" stroke="#b3d99a" stroke-width="1.6" stroke-linecap="round"/>
<circle cx="226.65" cy="301.14" r="1.5" fill="#fff"/>
<path d="M234.65 302.28L241.00 302.70L247.35 303.12L253.70 303.53L260.05 303.95L266.40 304.37L272.75 304.78L279.10 305.20L285.45 305.62" fill="none" stroke="#5aa423" stroke-width="5.5" stroke-linecap="round" stroke-linejoin="round"/>
<path d="M234.65 302.28L241.00 302.70L247.35 303.12L253.70 303.53L260.05 303.95L266.40 304.37L272.75 304.78L279.10 305.20L285.45 305.62" fill="none" stroke="#b3d99a" stroke-width="1.6" stroke-linecap="round"/>
<circle cx="285.45" cy="305.62" r="1.5" fill="#fff"/>
<path d="M293.35 306.44L299.66 306.77L305.98 307.10L312.29 307.42L318.60 307.75L324.91 308.08L331.23 308.40L337.54 308.73L343.85 309.06" fill="none" stroke="#5aa423" stroke-width="5.5" stroke-linecap="round" stroke-linejoin="round"/>
<path d="M293.35 306.44L299.66 306.77L305.98 307.10L312.29 307.42L318.60 307.75L324.91 308.08L331.23 308.40L337.54 308.73L343.85 309.06" fill="none" stroke="#b3d99a" stroke-width="1.6" stroke-linecap="round"/>
<circle cx="343.85" cy="309.06" r="1.5" fill="#fff"/>
<path d="M109.05 291.42L117.15 293.08" stroke="#5aa423" stroke-width="0.8" fill="none"/>
<path d="M167.85 296.32L175.95 298.16" stroke="#5aa423" stroke-width="0.8" fill="none"/>
<path d="M226.65 301.14L234.65 302.28" stroke="#5aa423" stroke-width="0.8" fill="none"/>
<path d="M285.45 305.62L293.35 306.44" stroke="#5aa423" stroke-width="0.8" fill="none"/>
<path d="M57.70 228.93L62.95 230.31L68.20 231.63L73.45 232.89L78.70 234.10L83.95 235.25L89.20 236.34L94.45 237.38L99.70 238.36L104.95 239.28L110.20 240.15L110.20 242.00L104.95 240.96L99.70 239.87L94.45 238.72L89.20 237.51L83.95 236.25L78.70 234.93L73.45 233.55L68.20 232.12L62.95 230.63L57.70 229.08Z" fill="#2f74b5" stroke="#2f74b5" stroke-width="3.20" stroke-linejoin="round"/>
<path d="M117.00 243.14L122.10 243.81L127.20 244.49L132.30 245.16L137.40 245.83L142.50 246.50L147.60 247.17L152.70 247.84L157.80 248.51L162.90 249.19L168.00 249.86L168.00 251.53L162.90 250.79L157.80 250.06L152.70 249.32L147.60 248.59L142.50 247.85L137.40 247.11L132.30 246.38L127.20 245.64L122.10 244.91L117.00 244.17Z" fill="#2f74b5" stroke="#2f74b5" stroke-width="5.20" stroke-linejoin="round"/>
<path d="M175.80 251.69L180.90 252.26L186.00 252.83L191.10 253.41L196.20 253.98L201.30 254.55L206.40 255.12L211.50 255.69L216.60 256.27L221.70 256.84L226.80 257.41L226.80 259.67L221.70 259.01L216.60 258.36L211.50 257.71L206.40 257.05L201.30 256.40L196.20 255.75L191.10 255.09L186.00 254.44L180.90 253.79L175.80 253.13Z" fill="#2f74b5" stroke="#2f74b5" stroke-width="5.20" stroke-linejoin="round"/>
<path d="M234.50 259.25L239.61 259.74L244.72 260.23L249.83 260.72L254.94 261.21L260.05 261.70L265.16 262.19L270.27 262.68L275.38 263.17L280.49 263.66L285.60 264.15L285.60 267.37L280.49 266.92L275.38 266.46L270.27 266.01L265.16 265.55L260.05 265.10L254.94 264.65L249.83 264.19L244.72 263.74L239.61 263.28L234.50 262.83Z" fill="#2f74b5" stroke="#2f74b5" stroke-width="5.20" stroke-linejoin="round"/>
<path d="M293.20 266.03L298.28 266.49L303.36 266.94L308.44 267.39L313.52 267.85L318.60 268.30L323.68 268.75L328.76 269.21L333.84 269.66L338.92 270.11L344.00 270.57L344.00 275.28L338.92 274.84L333.84 274.41L328.76 273.97L323.68 273.54L318.60 273.10L313.52 272.66L308.44 272.23L303.36 271.79L298.28 271.36L293.20 270.92Z" fill="#2f74b5" stroke="#2f74b5" stroke-width="5.20" stroke-linejoin="round"/>
<path d="M58.40 229.96L63.51 231.40L68.62 232.78L73.73 234.11L78.84 235.38L83.95 236.60L89.06 237.77L94.17 238.88L99.28 239.94L104.39 240.94L109.50 241.89L109.50 242.66L104.39 241.65L99.28 240.58L94.17 239.46L89.06 238.28L83.95 237.05L78.84 235.77L73.73 234.43L68.62 233.04L63.51 231.59L58.40 230.09Z" fill="#5aa423" stroke="#5aa423" stroke-width="4.60" stroke-linejoin="round"/>
<path d="M117.00 245.57L122.10 246.30L127.20 247.02L132.30 247.75L137.40 248.47L142.50 249.20L147.60 249.93L152.70 250.65L157.80 251.38L162.90 252.10L168.00 252.83L168.00 253.03L162.90 252.29L157.80 251.56L152.70 250.82L147.60 250.09L142.50 249.35L137.40 248.61L132.30 247.88L127.20 247.14L122.10 246.41L117.00 245.67Z" fill="#5aa423" stroke="#5aa423" stroke-width="5.20" stroke-linejoin="round"/>
<path d="M175.40 254.85L180.58 255.43L185.76 256.01L190.94 256.59L196.12 257.17L201.30 257.75L206.48 258.33L211.66 258.91L216.84 259.49L222.02 260.07L227.20 260.65L227.20 261.62L222.02 260.95L216.84 260.29L211.66 259.63L206.48 258.96L201.30 258.30L196.12 257.64L190.94 256.97L185.76 256.31L180.58 255.65L175.40 254.98Z" fill="#5aa423" stroke="#5aa423" stroke-width="4.40" stroke-linejoin="round"/>
<path d="M234.50 263.33L239.61 263.78L244.72 264.24L249.83 264.69L254.94 265.15L260.05 265.60L265.16 266.05L270.27 266.51L275.38 266.96L280.49 267.42L285.60 267.87L285.60 268.87L280.49 268.42L275.38 267.96L270.27 267.51L265.16 267.05L260.05 266.60L254.94 266.15L249.83 265.69L244.72 265.24L239.61 264.78L234.50 264.33Z" fill="#5aa423" stroke="#5aa423" stroke-width="5.20" stroke-linejoin="round"/>
<path d="M293.20 271.40L298.28 271.78L303.36 272.16L308.44 272.54L313.52 272.92L318.60 273.30L323.68 273.68L328.76 274.06L333.84 274.44L338.92 274.82L344.00 275.21L344.00 276.78L338.92 276.34L333.84 275.91L328.76 275.47L323.68 275.04L318.60 274.60L313.52 274.16L308.44 273.73L303.36 273.29L298.28 272.86L293.20 272.42Z" fill="#5aa423" stroke="#5aa423" stroke-width="5.20" stroke-linejoin="round"/>
<path d="M231.90 267.60L238.94 268.38L245.97 269.15L253.01 269.93L260.05 270.70L267.09 271.48L274.12 272.25L281.16 273.03L288.20 273.80" fill="none" stroke="#82bf55" stroke-width="0.9" stroke-opacity="0.9"/>
<path d="M290.60 276.00L297.60 276.80L304.60 277.60L311.60 278.40L318.60 279.20L325.60 280.00L332.60 280.80L339.60 281.60L346.60 282.40" fill="none" stroke="#82bf55" stroke-width="0.9" stroke-opacity="0.9"/>
<path d="M290.60 268.90L297.60 269.39L304.60 269.88L311.60 270.36L318.60 270.85L325.60 271.34L332.60 271.82L339.60 272.31L346.60 272.80" fill="none" stroke="#ffffff" stroke-width="0.8" stroke-opacity="0.5"/>
<path d="M381.35 272.67L387.66 274.15L393.98 275.55L400.29 276.86L406.60 278.10L412.91 279.25L419.23 280.33L425.54 281.32L431.85 282.23" fill="none" stroke="#2f74b5" stroke-width="5.5" stroke-linecap="round" stroke-linejoin="round"/>
<path d="M381.35 272.67L387.66 274.15L393.98 275.55L400.29 276.86L406.60 278.10L412.91 279.25L419.23 280.33L425.54 281.32L431.85 282.23" fill="none" stroke="#a3c4e6" stroke-width="1.6" stroke-linecap="round"/>
<circle cx="431.85" cy="282.23" r="1.5" fill="#fff"/>
<path d="M439.55 287.54L445.90 288.57L452.25 289.60L458.60 290.62L464.95 291.65L471.30 292.68L477.65 293.70L484.00 294.73L490.35 295.76" fill="none" stroke="#2f74b5" stroke-width="5.5" stroke-linecap="round" stroke-linejoin="round"/>
<path d="M439.55 287.54L445.90 288.57L452.25 289.60L458.60 290.62L464.95 291.65L471.30 292.68L477.65 293.70L484.00 294.73L490.35 295.76" fill="none" stroke="#a3c4e6" stroke-width="1.6" stroke-linecap="round"/>
<circle cx="490.35" cy="295.76" r="1.5" fill="#fff"/>
<path d="M498.15 300.78L504.52 301.88L510.90 302.99L517.27 304.09L523.65 305.20L530.02 306.31L536.40 307.41L542.77 308.52L549.15 309.62" fill="none" stroke="#2f74b5" stroke-width="5.5" stroke-linecap="round" stroke-linejoin="round"/>
<path d="M498.15 300.78L504.52 301.88L510.90 302.99L517.27 304.09L523.65 305.20L530.02 306.31L536.40 307.41L542.77 308.52L549.15 309.62" fill="none" stroke="#a3c4e6" stroke-width="1.6" stroke-linecap="round"/>
<circle cx="549.15" cy="309.62" r="1.5" fill="#fff"/>
<path d="M557.15 314.49L563.44 315.62L569.73 316.75L576.01 317.87L582.30 319.00L588.59 320.13L594.88 321.25L601.16 322.38L607.45 323.51" fill="none" stroke="#2f74b5" stroke-width="5.5" stroke-linecap="round" stroke-linejoin="round"/>
<path d="M557.15 314.49L563.44 315.62L569.73 316.75L576.01 317.87L582.30 319.00L588.59 320.13L594.88 321.25L601.16 322.38L607.45 323.51" fill="none" stroke="#a3c4e6" stroke-width="1.6" stroke-linecap="round"/>
<circle cx="607.45" cy="323.51" r="1.5" fill="#fff"/>
<path d="M615.95 328.06L622.09 329.10L628.23 330.13L634.36 331.17L640.50 332.20L646.64 333.23L652.77 334.27L658.91 335.30L665.05 336.34" fill="none" stroke="#2f74b5" stroke-width="5.5" stroke-linecap="round" stroke-linejoin="round"/>
<path d="M615.95 328.06L622.09 329.10L628.23 330.13L634.36 331.17L640.50 332.20L646.64 333.23L652.77 334.27L658.91 335.30L665.05 336.34" fill="none" stroke="#a3c4e6" stroke-width="1.6" stroke-linecap="round"/>
<circle cx="665.05" cy="336.34" r="1.5" fill="#fff"/>
<path d="M431.85 282.23L439.55 287.54" stroke="#2f74b5" stroke-width="0.8" fill="none"/>
<path d="M490.35 295.76L498.15 300.78" stroke="#2f74b5" stroke-width="0.8" fill="none"/>
<path d="M549.15 309.62L557.15 314.49" stroke="#2f74b5" stroke-width="0.8" fill="none"/>
<path d="M607.45 323.51L615.95 328.06" stroke="#2f74b5" stroke-width="0.8" fill="none"/>
<path d="M381.35 277.37L387.66 279.31L393.98 281.17L400.29 282.95L406.60 284.65L412.91 286.27L419.23 287.80L425.54 289.26L431.85 290.63" fill="none" stroke="#5aa423" stroke-width="5.5" stroke-linecap="round" stroke-linejoin="round"/>
<path d="M381.35 277.37L387.66 279.31L393.98 281.17L400.29 282.95L406.60 284.65L412.91 286.27L419.23 287.80L425.54 289.26L431.85 290.63" fill="none" stroke="#b3d99a" stroke-width="1.6" stroke-linecap="round"/>
<circle cx="431.85" cy="290.63" r="1.5" fill="#fff"/>
<path d="M439.55 296.22L445.90 297.43L452.25 298.64L458.60 299.84L464.95 301.05L471.30 302.26L477.65 303.46L484.00 304.67L490.35 305.88" fill="none" stroke="#5aa423" stroke-width="5.5" stroke-linecap="round" stroke-linejoin="round"/>
<path d="M439.55 296.22L445.90 297.43L452.25 298.64L458.60 299.84L464.95 301.05L471.30 302.26L477.65 303.46L484.00 304.67L490.35 305.88" fill="none" stroke="#b3d99a" stroke-width="1.6" stroke-linecap="round"/>
<circle cx="490.35" cy="305.88" r="1.5" fill="#fff"/>
<path d="M498.15 310.83L504.52 311.82L510.90 312.81L517.27 313.81L523.65 314.80L530.02 315.79L536.40 316.79L542.77 317.78L549.15 318.77" fill="none" stroke="#5aa423" stroke-width="5.5" stroke-linecap="round" stroke-linejoin="round"/>
<path d="M498.15 310.83L504.52 311.82L510.90 312.81L517.27 313.81L523.65 314.80L530.02 315.79L536.40 316.79L542.77 317.78L549.15 318.77" fill="none" stroke="#b3d99a" stroke-width="1.6" stroke-linecap="round"/>
<circle cx="549.15" cy="318.77" r="1.5" fill="#fff"/>
<path d="M557.15 322.24L563.44 323.03L569.73 323.82L576.01 324.61L582.30 325.40L588.59 326.19L594.88 326.98L601.16 327.77L607.45 328.56" fill="none" stroke="#5aa423" stroke-width="5.5" stroke-linecap="round" stroke-linejoin="round"/>
<path d="M557.15 322.24L563.44 323.03L569.73 323.82L576.01 324.61L582.30 325.40L588.59 326.19L594.88 326.98L601.16 327.77L607.45 328.56" fill="none" stroke="#b3d99a" stroke-width="1.6" stroke-linecap="round"/>
<circle cx="607.45" cy="328.56" r="1.5" fill="#fff"/>
<path d="M615.95 332.16L622.09 332.96L628.23 333.75L634.36 334.55L640.50 335.35L646.64 336.15L652.77 336.95L658.91 337.74L665.05 338.54" fill="none" stroke="#5aa423" stroke-width="5.5" stroke-linecap="round" stroke-linejoin="round"/>
<path d="M615.95 332.16L622.09 332.96L628.23 333.75L634.36 334.55L640.50 335.35L646.64 336.15L652.77 336.95L658.91 337.74L665.05 338.54" fill="none" stroke="#b3d99a" stroke-width="1.6" stroke-linecap="round"/>
<circle cx="665.05" cy="338.54" r="1.5" fill="#fff"/>
<path d="M431.85 290.63L439.55 296.22" stroke="#5aa423" stroke-width="0.8" fill="none"/>
<path d="M490.35 305.88L498.15 310.83" stroke="#5aa423" stroke-width="0.8" fill="none"/>
<path d="M549.15 318.77L557.15 322.24" stroke="#5aa423" stroke-width="0.8" fill="none"/>
<path d="M607.45 328.56L615.95 332.16" stroke="#5aa423" stroke-width="0.8" fill="none"/>
<path d="M381.20 216.86L386.28 218.88L391.36 220.83L396.44 222.72L401.52 224.54L406.60 226.30L411.68 227.99L416.76 229.62L421.84 231.17L426.92 232.67L432.00 234.09L432.00 236.53L426.92 234.98L421.84 233.36L416.76 231.67L411.68 229.92L406.60 228.10L401.52 226.22L396.44 224.27L391.36 222.25L386.28 220.17L381.20 218.02Z" fill="#2f74b5" stroke="#2f74b5" stroke-width="5.20" stroke-linejoin="round"/>
<path d="M439.40 240.94L444.51 242.40L449.62 243.87L454.73 245.33L459.84 246.79L464.95 248.25L470.06 249.71L475.17 251.17L480.28 252.63L485.39 254.10L490.50 255.56L490.50 259.27L485.39 257.84L480.28 256.40L475.17 254.97L470.06 253.53L464.95 252.10L459.84 250.67L454.73 249.23L449.62 247.80L444.51 246.36L439.40 244.93Z" fill="#2f74b5" stroke="#2f74b5" stroke-width="5.20" stroke-linejoin="round"/>
<path d="M498.00 262.36L503.13 263.66L508.26 264.95L513.39 266.25L518.52 267.55L523.65 268.85L528.78 270.15L533.91 271.45L539.04 272.75L544.17 274.04L549.30 275.34L549.30 279.44L544.17 278.13L539.04 276.82L533.91 275.51L528.78 274.21L523.65 272.90L518.52 271.59L513.39 270.29L508.26 268.98L503.13 267.67L498.00 266.36Z" fill="#2f74b5" stroke="#2f74b5" stroke-width="5.20" stroke-linejoin="round"/>
<path d="M557.00 282.62L562.06 284.03L567.12 285.43L572.18 286.84L577.24 288.24L582.30 289.65L587.36 291.06L592.42 292.46L597.48 293.87L602.54 295.27L607.60 296.68L607.60 298.63L602.54 297.32L597.48 296.02L592.42 294.71L587.36 293.41L582.30 292.10L577.24 290.79L572.18 289.49L567.12 288.18L562.06 286.88L557.00 285.57Z" fill="#2f74b5" stroke="#2f74b5" stroke-width="5.20" stroke-linejoin="round"/>
<path d="M381.05 219.49L386.16 221.60L391.27 223.65L396.38 225.64L401.49 227.55L406.60 229.40L411.71 231.18L416.82 232.90L421.93 234.55L427.04 236.13L432.15 237.65L432.15 238.22L427.04 236.66L421.93 235.03L416.82 233.34L411.71 231.58L406.60 229.75L401.49 227.86L396.38 225.89L391.27 223.87L386.16 221.77L381.05 219.61Z" fill="#5aa423" stroke="#5aa423" stroke-width="4.90" stroke-linejoin="round"/>
<path d="M439.40 246.17L444.51 247.47L449.62 248.78L454.73 250.09L459.84 251.39L464.95 252.70L470.06 254.01L475.17 255.31L480.28 256.62L485.39 257.93L490.50 259.23L490.50 260.77L485.39 259.34L480.28 257.90L475.17 256.47L470.06 255.03L464.95 253.60L459.84 252.17L454.73 250.73L449.62 249.30L444.51 247.86L439.40 246.43Z" fill="#5aa423" stroke="#5aa423" stroke-width="5.20" stroke-linejoin="round"/>
<path d="M498.00 265.92L503.13 267.13L508.26 268.35L513.39 269.57L518.52 270.78L523.65 272.00L528.78 273.22L533.91 274.43L539.04 275.65L544.17 276.87L549.30 278.08L549.30 280.94L544.17 279.63L539.04 278.32L533.91 277.01L528.78 275.71L523.65 274.40L518.52 273.09L513.39 271.79L508.26 270.48L503.13 269.17L498.00 267.86Z" fill="#5aa423" stroke="#5aa423" stroke-width="5.20" stroke-linejoin="round"/>
<path d="M557.00 283.72L562.06 285.11L567.12 286.51L572.18 287.91L577.24 289.30L582.30 290.70L587.36 292.10L592.42 293.49L597.48 294.89L602.54 296.29L607.60 297.68L607.60 300.13L602.54 298.82L597.48 297.52L592.42 296.21L587.36 294.91L582.30 293.60L577.24 292.29L572.18 290.99L567.12 289.68L562.06 288.38L557.00 287.07Z" fill="#5aa423" stroke="#5aa423" stroke-width="5.20" stroke-linejoin="round"/>
<path d="M615.80 301.75L620.74 302.80L625.68 303.85L630.62 304.90L635.56 305.95L640.50 307.00L645.44 308.05L650.38 309.10L655.32 310.15L660.26 311.20L665.20 312.25L665.20 317.65L660.26 316.60L655.32 315.55L650.38 314.50L645.44 313.45L640.50 312.40L635.56 311.35L630.62 310.30L625.68 309.25L620.74 308.20L615.80 307.15Z" fill="#5aa423" stroke="#5aa423" stroke-width="5.20" stroke-linejoin="round"/>
<path d="M614.50 300.00L621.06 302.45L627.62 304.90L634.19 307.35L640.75 309.80L647.31 312.25L653.88 314.70L660.44 317.15L667.00 319.60" fill="none" stroke="#2f74b5" stroke-width="1.6" stroke-opacity="1.0"/>
<circle cx="666.3" cy="319.0" r="2.2" fill="#2f74b5"/>
<path d="M495.40 270.80L502.46 272.53L509.52 274.25L516.59 275.98L523.65 277.70L530.71 279.43L537.77 281.15L544.84 282.88L551.90 284.60" fill="none" stroke="#b3d99a" stroke-width="0.8" stroke-opacity="0.9"/>
<path d="M554.40 289.60L561.38 291.38L568.35 293.15L575.33 294.93L582.30 296.70L589.27 298.48L596.25 300.25L603.23 302.03L610.20 303.80" fill="none" stroke="#b3d99a" stroke-width="0.8" stroke-opacity="0.9"/>
<path d="M613.20 309.60L620.03 311.05L626.85 312.50L633.67 313.95L640.50 315.40L647.33 316.85L654.15 318.30L660.97 319.75L667.80 321.20" fill="none" stroke="#b3d99a" stroke-width="0.8" stroke-opacity="0.9"/>
<path d="M613.20 301.80L620.03 303.07L626.85 304.35L633.67 305.62L640.50 306.90L647.33 308.18L654.15 309.45L660.97 310.73L667.80 312.00" fill="none" stroke="#b3d99a" stroke-width="0.8" stroke-opacity="0.7"/>
<path d="M110.80 241.35L115.40 243.30" stroke="#2f74b5" stroke-width="0.8" fill="none"/>
<path d="M110.80 242.70L115.40 245.25" stroke="#5aa423" stroke-width="0.8" fill="none"/>
<path d="M169.60 251.05L174.20 252.10" stroke="#2f74b5" stroke-width="0.8" fill="none"/>
<path d="M169.60 253.30L174.20 254.65" stroke="#5aa423" stroke-width="0.8" fill="none"/>
<path d="M228.40 258.85L232.90 260.80" stroke="#2f74b5" stroke-width="0.8" fill="none"/>
<path d="M228.40 261.40L232.90 263.60" stroke="#5aa423" stroke-width="0.8" fill="none"/>
<path d="M287.20 266.00L291.60 268.25" stroke="#2f74b5" stroke-width="0.8" fill="none"/>
<path d="M287.20 268.60L291.60 271.70" stroke="#5aa423" stroke-width="0.8" fill="none"/>
<path d="M433.60 236.05L437.80 242.20" stroke="#2f74b5" stroke-width="0.8" fill="none"/>
<path d="M433.60 238.65L437.80 245.60" stroke="#5aa423" stroke-width="0.8" fill="none"/>
<path d="M492.10 258.15L496.40 263.70" stroke="#2f74b5" stroke-width="0.8" fill="none"/>
<path d="M492.10 260.70L496.40 266.25" stroke="#5aa423" stroke-width="0.8" fill="none"/>
<path d="M550.90 278.05L555.40 283.40" stroke="#2f74b5" stroke-width="0.8" fill="none"/>
<path d="M550.90 280.15L555.40 284.70" stroke="#5aa423" stroke-width="0.8" fill="none"/>
<path d="M609.20 298.35L614.20 303.35" stroke="#2f74b5" stroke-width="0.8" fill="none"/>
<path d="M609.20 299.60L614.20 303.90" stroke="#5aa423" stroke-width="0.8" fill="none"/>
<text x="52.57" y="27.70" class="pl">a) <tspan font-style="italic">C</tspan>/15</text><text x="52.57" y="198.00" class="pl">b) <tspan font-style="italic">C</tspan>/3</text><text x="52.57" y="368.60" class="pl">c) 2<tspan font-style="italic">C</tspan></text><text x="52.57" y="539.30" class="pl">d)</text><text x="375.17" y="28.30" class="pl">e) <tspan font-style="italic">C</tspan>/15</text><text x="375.17" y="198.60" class="pl">f) <tspan font-style="italic">C</tspan>/3</text><text x="375.17" y="369.20" class="pl">g) 2<tspan font-style="italic">C</tspan></text><text x="375.17" y="539.90" class="pl">h)</text>
<rect x="187.5" y="153.4" width="138.3" height="41.7" fill="#fff" stroke="#555555" stroke-width="1"/><path d="M190.6 163.9H218.7" stroke="#8db5e0" stroke-width="1.2"/><circle cx="204.6" cy="163.9" r="2.5" fill="#2f74b5"/><path d="M190.6 182.9H218.7" stroke="#94c86e" stroke-width="1.2"/><circle cx="204.6" cy="182.9" r="2.5" fill="#5aa423"/><text x="221.8" y="168.1" class="lt">PC</text><text x="221.8" y="187.1" class="lt">SC</text><path d="M251.5 163.9H279.6" stroke="#666" stroke-width="1.1" stroke-dasharray="1.8 1.5"/><circle cx="265.6" cy="163.9" r="2.2" fill="#fff" stroke="#111" stroke-width="1.1"/><path d="M251.5 182.9H279.6" stroke="#333" stroke-width="1.1"/><circle cx="265.6" cy="182.9" r="2.8" fill="#111"/><text x="282.6" y="168.1" class="lt">4.1 V<tspan font-size="8.5" dy="2.6">Gra</tspan></text><text x="282.6" y="187.1" class="lt">4.4 V<tspan font-size="8.5" dy="2.6">Gra</tspan></text>
<rect x="293.3" y="0" width="44.9" height="26.1" fill="#28557f"/><text x="315.7" y="18.8" text-anchor="middle" class="tb">25 °C</text><rect x="614.6" y="0" width="45.1" height="25.7" fill="#991214"/><text x="637.1" y="18.6" text-anchor="middle" class="tb">45 °C</text>
<text transform="translate(11.6 268.3) rotate(-90)" text-anchor="middle" class="at">specific discharge capacity [mAh/g<tspan font-size="8.5" dy="2.5">NCM</tspan><tspan dy="-2.5">]</tspan></text><text transform="translate(720.4 267.3) rotate(-90)" text-anchor="middle" class="at">specific discharge capacity [mAh/g<tspan font-size="8.5" dy="2.5">NCM</tspan><tspan dy="-2.5">]</tspan></text><text transform="translate(11.4 606.4) rotate(-90)" text-anchor="middle" class="at">resistance [Ω·cm<tspan font-size="9.3" dy="-4.8">2</tspan><tspan font-size="9.3" dx="-4.6" dy="7.4">electrode</tspan><tspan dy="-2.6">]</tspan></text><text transform="translate(720.2 606.4) rotate(-90)" text-anchor="middle" class="at">resistance [Ω·cm<tspan font-size="9.3" dy="-4.8">2</tspan><tspan font-size="9.3" dx="-4.6" dy="7.4">electrode</tspan><tspan dy="-2.5">]</tspan></text><text x="201.22" y="726.5" text-anchor="middle" class="at">cycle [-]</text><text x="523.82" y="726.5" text-anchor="middle" class="at">cycle [-]</text>
</svg>
</body></html>
